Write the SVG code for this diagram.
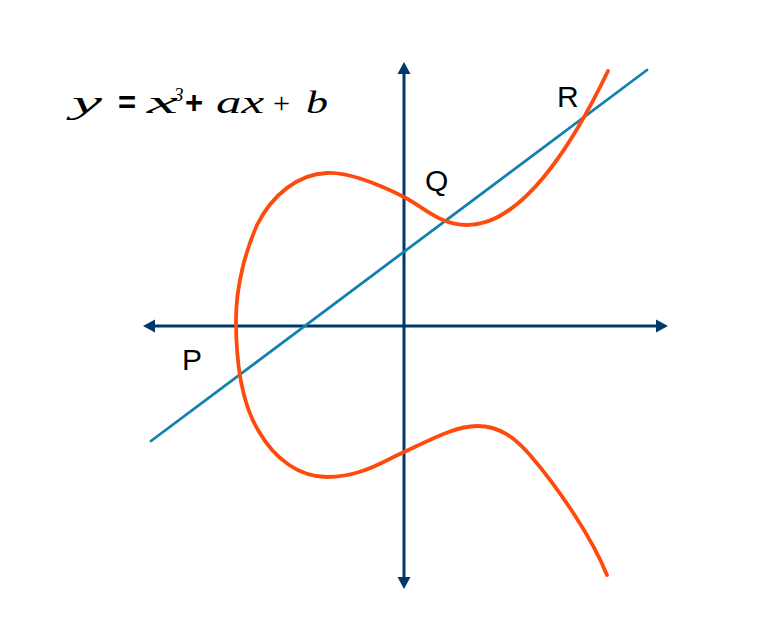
<svg xmlns="http://www.w3.org/2000/svg" width="767" height="642" viewBox="0 0 767 642">
<style>
.axis{stroke:#00386B;stroke-width:3;fill:none}
.ah{fill:#00386B}
.line{stroke:#1480B0;stroke-width:2.8;fill:none;stroke-linecap:round}
.curve{stroke:#FF4A0D;stroke-width:3.8;fill:none;stroke-linecap:round}
.lbl{font-family:"Liberation Sans",Arial,sans-serif;font-size:30px;fill:#000}
.eq{font-family:"Liberation Serif","Times New Roman",serif;font-style:italic;font-size:32px;fill:#000}
.sup{font-family:"Liberation Serif","Times New Roman",serif;font-style:italic;font-size:19px;fill:#000}
.op{font-family:"Liberation Sans",Arial,sans-serif;font-weight:bold;font-size:31px;fill:#000}
.op2{font-family:"Liberation Serif","Times New Roman",serif;font-size:30px;fill:#000}
</style>
<rect width="767" height="642" fill="#fff"/>
<g id="axes">
<line class="axis" x1="404" y1="72" x2="404" y2="579"/>
<polygon class="ah" points="404,62 397.5,74 410.5,74"/>
<polygon class="ah" points="404,589 397.5,577 410.5,577"/>
<line class="axis" x1="154" y1="326" x2="658" y2="326"/>
<polygon class="ah" points="143,326 155,319.5 155,332.5"/>
<polygon class="ah" points="668,326 656,319.5 656,332.5"/>
</g>
<g id="connectors">
<line class="line" x1="151" y1="441" x2="647" y2="70"/>
<path class="curve" d="M608,71 C570,150 520,225 467,225 C440,225 425,208 404,197 C380,185 350,172 327,173 C298,174 272,195 257,225 C246,250 236,285 236,320 C236,370 243,405 258,430 C275,460 300,477 327,477 C360,477 380,463 404,452 C430,440 455,426 477,426 C500,426 515,438 530,455 C560,490 592,538 607,575"/>
</g>
<g id="labels">
<text class="lbl" x="182" y="370">P</text>
<text class="lbl" x="425" y="191">Q</text>
<text class="lbl" x="557" y="107">R</text>
</g>
<g id="equation">
<text class="eq" x="72" y="113" textLength="30" lengthAdjust="spacingAndGlyphs">y</text>
<text class="op" x="118" y="113">=</text>
<text class="eq" x="147" y="113" textLength="31" lengthAdjust="spacingAndGlyphs">x</text>
<text class="sup" x="174" y="101">3</text>
<text class="op" x="185" y="113">+</text>
<text class="eq" x="216" y="113" textLength="48" lengthAdjust="spacingAndGlyphs">ax</text>
<text class="op2" x="273" y="113" textLength="17" lengthAdjust="spacingAndGlyphs">+</text>
<text class="eq" x="306" y="113" textLength="22" lengthAdjust="spacingAndGlyphs">b</text>
</g>
</svg>
